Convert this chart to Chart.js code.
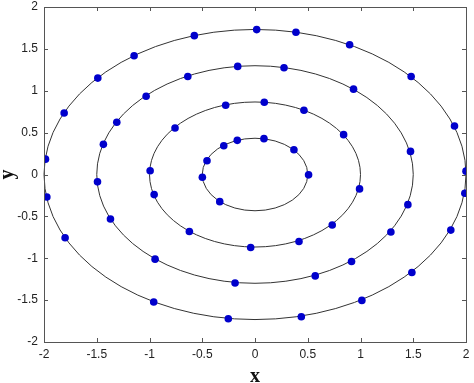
<!DOCTYPE html>
<html>
<head>
<meta charset="utf-8">
<script src="https://cdn.jsdelivr.net/npm/chart.js@4/dist/chart.umd.min.js"></script>
<style>
  html, body { margin: 0; padding: 0; background: #fff; }
  #wrap { width: 474px; height: 383px; }
</style>
</head>
<body>
<div id="wrap"><canvas id="rings" width="474" height="383"></canvas></div>
<script>
// Ellipses: all centred on the origin
const centerX = 0;
const centerY = 0;
const semiAxesX = [0.5, 1, 1.5, 2];
const semiAxesY = [0.433, 0.866, 1.299, 1.732];

// Points, one pair of arrays per ring
const ring1X = [-0.168, -0.296, -0.455, -0.499, -0.334, 0.085, 0.369, 0.508];
const ring1Y = [0.408, 0.344, 0.164, -0.032, -0.324, 0.428, 0.296, -0.004];

const ring2X = [-0.278, -0.758, -0.994, -0.956, -0.622, -0.041, 0.417, 0.732, 0.991, 0.84, 0.464, 0.088];
const ring2Y = [0.827, 0.555, 0.044, -0.24, -0.68, -0.871, -0.8, -0.603, -0.172, 0.476, 0.767, 0.863];

const ring3X = [-0.164, -0.637, -1.032, -1.31, -1.437, -1.493, -1.37, -0.947, -0.189, 0.571, 0.915, 1.288, 1.449, 1.474, 0.934, 0.275];
const ring3Y = [1.291, 1.171, 0.935, 0.623, 0.36, -0.088, -0.531, -1.011, -1.295, -1.211, -1.039, -0.687, -0.36, 0.276, 1.019, 1.275];

const ring4X = [-0.575, -1.146, -1.49, -1.809, -1.986, -1.973, -1.8, -0.96, -0.253, 0.439, 1.013, 1.487, 1.856, 1.989, 2.0, 1.891, 1.48, 0.897, 0.388, 0.016];
const ring4Y = [1.658, 1.418, 1.151, 0.735, 0.183, -0.268, -0.755, -1.523, -1.723, -1.699, -1.503, -1.171, -0.664, -0.224, 0.04, 0.579, 1.171, 1.55, 1.699, 1.73];

const axisMin = -2;
const axisMax = 2;
const axisStep = 0.5;

function toPoints(xs, ys) {
  return xs.map((x, i) => ({ x: x, y: ys[i] }));
}

function ringDataset(xs, ys) {
  return {
    data: toPoints(xs, ys),
    backgroundColor: '#0000cc',
    borderColor: '#0000cc',
    pointRadius: 3.8,
    pointBorderWidth: 0
  };
}

// ellipse outlines under the points
const ellipsePlugin = {
  id: 'ellipses',
  beforeDatasetsDraw(chart) {
    const ctx = chart.ctx;
    const xs = chart.scales.x, ys = chart.scales.y;
    const cx = xs.getPixelForValue(centerX);
    const cy = ys.getPixelForValue(centerY);
    ctx.save();
    ctx.strokeStyle = '#333';
    ctx.lineWidth = 1;
    for (let i = 0; i < semiAxesX.length; i++) {
      const rx = xs.getPixelForValue(centerX + semiAxesX[i]) - cx;
      const ry = cy - ys.getPixelForValue(centerY + semiAxesY[i]);
      ctx.beginPath();
      ctx.ellipse(cx, cy, rx, ry, 0, 0, Math.PI * 2);
      ctx.stroke();
    }
    ctx.restore();
  }
};

// box round the plot with inward ticks on all four sides
const framePlugin = {
  id: 'frame',
  afterDatasetsDraw(chart) {
    const ctx = chart.ctx;
    const a = chart.chartArea;
    const len = 4;
    ctx.save();
    ctx.strokeStyle = '#555';
    ctx.lineWidth = 1;
    ctx.strokeRect(Math.round(a.left) + 0.5, Math.round(a.top) + 0.5,
      Math.round(a.right - a.left), Math.round(a.bottom - a.top));
    ctx.beginPath();
    chart.scales.x.ticks.forEach(t => {
      const px = Math.round(chart.scales.x.getPixelForValue(t.value)) + 0.5;
      ctx.moveTo(px, a.bottom); ctx.lineTo(px, a.bottom - len);
      ctx.moveTo(px, a.top); ctx.lineTo(px, a.top + len);
    });
    chart.scales.y.ticks.forEach(t => {
      const py = Math.round(chart.scales.y.getPixelForValue(t.value)) + 0.5;
      ctx.moveTo(a.left, py); ctx.lineTo(a.left + len, py);
      ctx.moveTo(a.right, py); ctx.lineTo(a.right - len, py);
    });
    ctx.stroke();
    ctx.restore();
  }
};

const tickFont = { family: "'Liberation Sans', Arial, sans-serif", size: 12 };
const titleFont = { family: "'Liberation Serif', 'Times New Roman', serif", size: 20, weight: 'bold' };
const tickLabel = v => String(Math.round(v * 10) / 10);

const myChart = new Chart(document.getElementById('rings'), {
  type: 'scatter',
  data: {
    datasets: [
      ringDataset(ring1X, ring1Y),
      ringDataset(ring2X, ring2Y),
      ringDataset(ring3X, ring3Y),
      ringDataset(ring4X, ring4Y)
    ]
  },
  options: {
    responsive: false,
    animation: false,
    layout: { padding: { top: 7, right: 8, left: 0, bottom: 0 } },
    plugins: { legend: { display: false }, tooltip: { enabled: false } },
    scales: {
      x: {
        type: 'linear',
        min: axisMin,
        max: axisMax,
        afterFit(scale) {
          scale.height = 41;
          scale.paddingLeft = 0; scale.paddingRight = 0;
        },
        ticks: { stepSize: axisStep, color: '#222', font: tickFont, padding: 5, callback: tickLabel },
        grid: { display: false, drawTicks: false },
        border: { display: false },
        title: { display: true, text: 'x', color: '#111', font: titleFont, padding: { top: 0, bottom: -6 } }
      },
      y: {
        type: 'linear',
        min: axisMin,
        max: axisMax,
        afterFit(scale) {
          scale.width = 44;
          scale.paddingTop = 0; scale.paddingBottom = 0;
        },
        ticks: { stepSize: axisStep, color: '#222', font: tickFont, padding: 6, callback: tickLabel },
        grid: { display: false, drawTicks: false },
        border: { display: false },
        title: { display: true, text: 'y', color: '#111', font: titleFont, padding: { top: -4, bottom: 0 } }
      }
    }
  },
  plugins: [ellipsePlugin, framePlugin]
});
</script>
</body>
</html>
